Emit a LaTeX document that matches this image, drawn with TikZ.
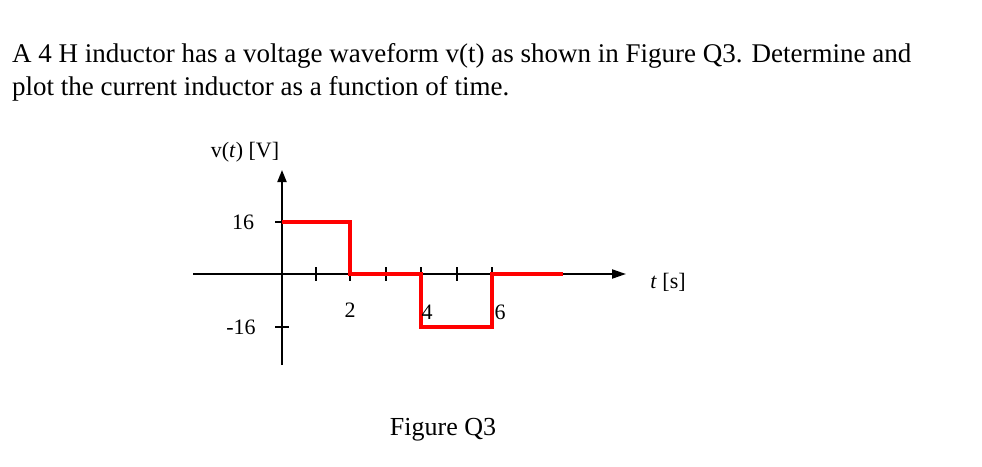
\documentclass[tikz,border=0pt]{standalone}
\usepackage{fontspec}
\setmainfont{Liberation Serif}
\usetikzlibrary{arrows.meta}
\begin{document}
\begin{tikzpicture}[x=1pt,y=-1pt,
  lbl/.style={font=\fontsize{22}{26}\selectfont,inner sep=0},
  tk/.style={line width=2.5pt}]
\useasboundingbox[fill=white] (0,0) rectangle (982,466);
\node[anchor=base west,inner sep=0,font=\fontsize{27}{33}\selectfont] (t1) at (12,62) {A 4 H inductor has a voltage waveform v(t) as shown in Figure Q3. Determine and};
\node[anchor=base west,inner sep=0,font=\fontsize{27}{33}\selectfont] (t2) at (12,95) {plot the current inductor as a function of time.};
\coordinate (yb) at (282,365); \coordinate (yt) at (282,170);
\coordinate (xl) at (193,274); \coordinate (xr) at (626,274);
\draw[line width=2pt,-{Triangle[length=12pt,width=9pt]}] (yb) -- (yt);
\draw[line width=2pt,-{Triangle[length=14pt,width=9pt]}] (xl) -- (xr);
\foreach \x in {316,350,386,421,457,492} \draw[tk] (\x,267) -- (\x,281);
\foreach \y in {222,327} \draw[tk] (275,\y) -- (289,\y);
\draw[red,line width=4.5pt] (282,222) -- (350,222) -- (350,274) -- (421,274) -- (421,327) -- (492,327) -- (492,274) -- (563,274);
\node[lbl] (a) at (243,222) {16};
\node[lbl] (b) at (241,327) {-16};
\node[lbl] (c) at (350,310) {2};
\node[lbl] (d) at (427,312) {4};
\node[lbl] (e) at (500,312) {6};
\node[lbl] (f) at (245,152) {v(\textit{t}) [V]};
\node[lbl] (g) at (668,282) {\textit{t} [s]};
\node[lbl,font=\fontsize{26}{30}\selectfont] (h) at (443,430) {Figure Q3};
\end{tikzpicture}
\end{document}
